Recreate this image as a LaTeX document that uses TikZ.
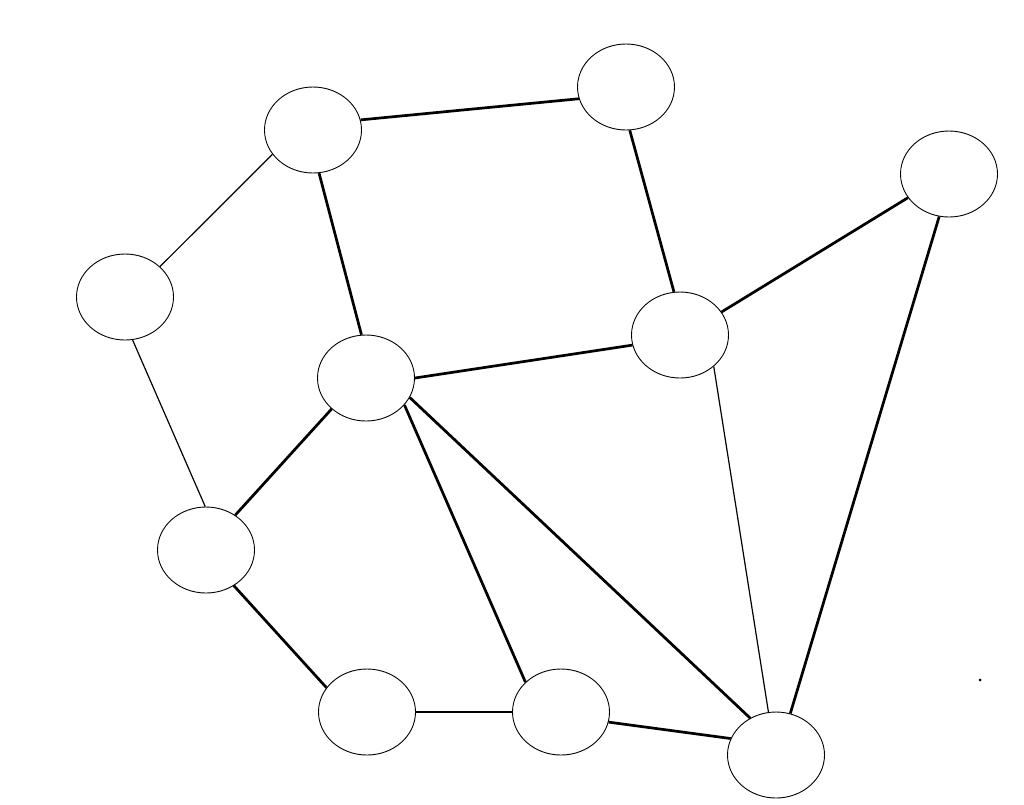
\documentclass[tikz,border=0pt]{standalone}
\usetikzlibrary{shapes.geometric}
\begin{document}
\begin{tikzpicture}[x=1pt,y=-1pt,
  vtx/.style={ellipse,draw=black,line width=0.9pt,fill=white,minimum width=97pt,minimum height=86pt,inner sep=0pt},
  heavy/.style={line width=2.7pt},
  light/.style={line width=1.2pt}]
\useasboundingbox (0,0) rectangle (1024,804);
\fill[white] (0,0) rectangle (1024,804);
\node[vtx] (a) at (313,130) {};
\node[vtx] (b) at (626,87) {};
\node[vtx] (c) at (949,174) {};
\node[vtx] (d) at (125,297) {};
\node[vtx] (e) at (680,335) {};
\node[vtx] (f) at (366,378) {};
\node[vtx] (g) at (206,550) {};
\node[vtx] (h) at (367,712) {};
\node[vtx] (i) at (561,712) {};
\node[vtx] (j) at (776,755) {};
\draw[heavy] (a.12) -- (b.194);
\draw[light] (a.211) -- (d.41);
\draw[heavy] (a.278) -- (f.96);
\draw[heavy] (b.275) -- (e.98);
\draw[heavy] (c.210) -- (e.29);
\draw[heavy] (c.257) -- (j.71);
\draw[light] (d.280) -- (g.91);
\draw[heavy] (e.192) -- (f.0);
\draw[light] (e.317) -- (j.100);
\draw[heavy] (f.222) -- (g.50);
\draw[heavy] (f.325) -- (i.140);
\draw[heavy] (f.336) -- (j.125);
\draw[heavy] (g.308) -- (h.149);
\draw[heavy] (h.0) -- (i.180);
\draw[heavy] (i.348) -- (j.160);
\coordinate (dot) at (980,680);
\fill (dot) circle (1.5);
\end{tikzpicture}
\end{document}
